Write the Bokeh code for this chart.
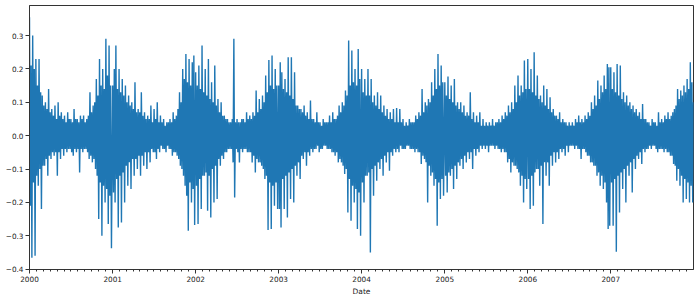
import pandas as pd
from bokeh.plotting import figure
from bokeh.models import ColumnDataSource, Range1d, FixedTicker, DatetimeTickFormatter
from bokeh.embed import file_html
from bokeh.resources import INLINE

# Readings twice a week: "up" = positive swing read at the start of each week
# (1 January + 7*i days), "lo" = negative swing read half a week later.
years = [2000, 2001, 2002, 2003, 2004, 2005, 2006, 2007]

up2000 = [0.355, 0.21, 0.30, 0.20, 0.23, 0.15, 0.23, 0.13, 0.12, 0.09,
          0.10, 0.08, 0.14, 0.07, 0.08, 0.06, 0.09, 0.05, 0.10, 0.06,
          0.07, 0.05, 0.06, 0.04, 0.07, 0.05, 0.05, 0.04, 0.08, 0.05,
          0.05, 0.04, 0.06, 0.05, 0.06, 0.04, 0.05, 0.06, 0.13, 0.07,
          0.09, 0.10, 0.17, 0.12, 0.23, 0.15, 0.20, 0.14, 0.29, 0.18,
          0.27, 0.15]
lo2000 = [-0.21, -0.366, -0.14, -0.36, -0.12, -0.15, -0.10, -0.22, -0.09, -0.09,
          -0.07, -0.12, -0.06, -0.07, -0.05, -0.06, -0.05, -0.12, -0.05, -0.07,
          -0.04, -0.06, -0.04, -0.05, -0.04, -0.04, -0.05, -0.06, -0.04, -0.05,
          -0.04, -0.11, -0.04, -0.05, -0.04, -0.04, -0.05, -0.07, -0.06, -0.08,
          -0.07, -0.10, -0.12, -0.25, -0.14, -0.30, -0.15, -0.20, -0.16, -0.265,
          -0.18, -0.337]
up2001 = [0.15, 0.20, 0.27, 0.14, 0.20, 0.13, 0.17, 0.12, 0.15, 0.10,
          0.12, 0.09, 0.10, 0.08, 0.16, 0.07, 0.08, 0.07, 0.13, 0.06,
          0.07, 0.05, 0.06, 0.05, 0.09, 0.04, 0.08, 0.05, 0.10, 0.04,
          0.06, 0.04, 0.05, 0.03, 0.04, 0.04, 0.05, 0.04, 0.07, 0.05,
          0.06, 0.08, 0.13, 0.10, 0.20, 0.17, 0.245, 0.16, 0.23, 0.15,
          0.22, 0.24]
lo2001 = [-0.17, -0.20, -0.13, -0.275, -0.12, -0.26, -0.11, -0.20, -0.09, -0.15,
          -0.08, -0.16, -0.07, -0.12, -0.07, -0.10, -0.06, -0.12, -0.06, -0.09,
          -0.05, -0.10, -0.05, -0.08, -0.04, -0.05, -0.05, -0.07, -0.04, -0.05,
          -0.03, -0.04, -0.04, -0.05, -0.03, -0.04, -0.04, -0.06, -0.05, -0.05,
          -0.06, -0.07, -0.09, -0.10, -0.12, -0.15, -0.18, -0.285, -0.14, -0.20,
          -0.16, -0.268]
up2002 = [0.19, 0.15, 0.21, 0.14, 0.27, 0.13, 0.20, 0.12, 0.23, 0.11,
          0.16, 0.10, 0.21, 0.09, 0.11, 0.07, 0.10, 0.06, 0.06, 0.05,
          0.05, 0.04, 0.04, 0.05, 0.29, 0.04, 0.05, 0.04, 0.04, 0.05,
          0.05, 0.04, 0.07, 0.05, 0.06, 0.05, 0.07, 0.06, 0.135, 0.07,
          0.11, 0.08, 0.12, 0.10, 0.18, 0.13, 0.227, 0.15, 0.24, 0.14,
          0.20, 0.15]
lo2002 = [-0.15, -0.265, -0.13, -0.22, -0.12, -0.12, -0.11, -0.225, -0.12, -0.245,
          -0.10, -0.20, -0.09, -0.19, -0.07, -0.09, -0.06, -0.07, -0.05, -0.05,
          -0.04, -0.04, -0.04, -0.08, -0.185, -0.04, -0.05, -0.08, -0.04, -0.05,
          -0.04, -0.04, -0.05, -0.05, -0.05, -0.08, -0.06, -0.11, -0.07, -0.08,
          -0.08, -0.09, -0.10, -0.13, -0.12, -0.283, -0.14, -0.28, -0.15, -0.21,
          -0.14, -0.22]
up2003 = [0.15, 0.22, 0.19, 0.14, 0.17, 0.13, 0.235, 0.12, 0.235, 0.11,
          0.19, 0.09, 0.09, 0.08, 0.08, 0.07, 0.09, 0.06, 0.07, 0.05,
          0.105, 0.05, 0.05, 0.04, 0.07, 0.04, 0.04, 0.03, 0.05, 0.04,
          0.04, 0.04, 0.06, 0.04, 0.07, 0.05, 0.05, 0.06, 0.09, 0.07,
          0.10, 0.09, 0.135, 0.12, 0.285, 0.15, 0.255, 0.16, 0.20, 0.15,
          0.26, 0.17]
lo2003 = [-0.22, -0.275, -0.13, -0.22, -0.12, -0.245, -0.11, -0.19, -0.10, -0.20,
          -0.09, -0.12, -0.08, -0.13, -0.06, -0.07, -0.05, -0.09, -0.05, -0.06,
          -0.04, -0.05, -0.04, -0.04, -0.03, -0.05, -0.04, -0.04, -0.03, -0.03,
          -0.04, -0.04, -0.04, -0.05, -0.05, -0.06, -0.05, -0.08, -0.07, -0.08,
          -0.09, -0.115, -0.10, -0.23, -0.13, -0.255, -0.15, -0.20, -0.16, -0.28,
          -0.17, -0.30]
up2004 = [0.20, 0.13, 0.17, 0.12, 0.20, 0.12, 0.17, 0.10, 0.12, 0.09,
          0.13, 0.08, 0.12, 0.07, 0.09, 0.06, 0.08, 0.05, 0.07, 0.05,
          0.08, 0.04, 0.083, 0.04, 0.08, 0.04, 0.05, 0.03, 0.04, 0.03,
          0.05, 0.04, 0.04, 0.04, 0.06, 0.05, 0.07, 0.06, 0.14, 0.07,
          0.10, 0.09, 0.11, 0.10, 0.16, 0.12, 0.20, 0.14, 0.245, 0.15,
          0.21, 0.16]
lo2004 = [-0.14, -0.20, -0.12, -0.12, -0.11, -0.35, -0.10, -0.18, -0.09, -0.135,
          -0.08, -0.10, -0.07, -0.12, -0.06, -0.08, -0.05, -0.105, -0.05, -0.06,
          -0.04, -0.05, -0.04, -0.05, -0.03, -0.04, -0.04, -0.04, -0.03, -0.03,
          -0.04, -0.04, -0.04, -0.05, -0.04, -0.05, -0.05, -0.085, -0.06, -0.07,
          -0.08, -0.20, -0.09, -0.12, -0.11, -0.15, -0.13, -0.27, -0.14, -0.19,
          -0.13, -0.18]
up2005 = [0.16, 0.12, 0.177, 0.11, 0.15, 0.10, 0.17, 0.09, 0.10, 0.08,
          0.10, 0.07, 0.09, 0.06, 0.07, 0.06, 0.13, 0.05, 0.07, 0.04,
          0.06, 0.04, 0.07, 0.03, 0.05, 0.03, 0.04, 0.03, 0.04, 0.03,
          0.05, 0.03, 0.04, 0.04, 0.05, 0.04, 0.06, 0.05, 0.07, 0.06,
          0.09, 0.07, 0.10, 0.08, 0.15, 0.10, 0.18, 0.12, 0.15, 0.13,
          0.225, 0.14]
lo2005 = [-0.12, -0.17, -0.11, -0.12, -0.10, -0.16, -0.09, -0.13, -0.08, -0.09,
          -0.07, -0.10, -0.06, -0.08, -0.05, -0.07, -0.05, -0.10, -0.04, -0.06,
          -0.04, -0.05, -0.03, -0.04, -0.03, -0.04, -0.03, -0.05, -0.03, -0.03,
          -0.03, -0.04, -0.03, -0.04, -0.04, -0.05, -0.04, -0.05, -0.05, -0.08,
          -0.07, -0.11, -0.08, -0.09, -0.09, -0.10, -0.11, -0.15, -0.12, -0.20,
          -0.13, -0.16]
up2006 = [0.23, 0.14, 0.20, 0.13, 0.25, 0.12, 0.18, 0.11, 0.12, 0.10,
          0.15, 0.09, 0.14, 0.08, 0.115, 0.07, 0.08, 0.06, 0.06, 0.05,
          0.07, 0.04, 0.05, 0.04, 0.04, 0.03, 0.04, 0.03, 0.04, 0.03,
          0.05, 0.04, 0.06, 0.04, 0.05, 0.04, 0.06, 0.05, 0.07, 0.06,
          0.10, 0.08, 0.12, 0.09, 0.165, 0.11, 0.15, 0.13, 0.18, 0.14,
          0.215, 0.205]
lo2006 = [-0.13, -0.22, -0.12, -0.21, -0.11, -0.10, -0.10, -0.15, -0.09, -0.265,
          -0.08, -0.12, -0.08, -0.15, -0.06, -0.09, -0.05, -0.08, -0.05, -0.07,
          -0.04, -0.05, -0.04, -0.06, -0.03, -0.05, -0.03, -0.03, -0.03, -0.04,
          -0.03, -0.04, -0.04, -0.07, -0.04, -0.04, -0.05, -0.06, -0.06, -0.08,
          -0.08, -0.09, -0.09, -0.12, -0.11, -0.15, -0.12, -0.16, -0.14, -0.20,
          -0.28, -0.27]
up2007 = [0.205, 0.14, 0.19, 0.13, 0.215, 0.12, 0.21, 0.11, 0.13, 0.10,
          0.12, 0.09, 0.10, 0.08, 0.09, 0.07, 0.08, 0.06, 0.07, 0.05,
          0.095, 0.05, 0.05, 0.04, 0.04, 0.03, 0.05, 0.04, 0.04, 0.03,
          0.07, 0.04, 0.05, 0.04, 0.06, 0.05, 0.07, 0.05, 0.06, 0.07,
          0.08, 0.09, 0.14, 0.11, 0.135, 0.12, 0.15, 0.13, 0.17, 0.14,
          0.22, 0.16, 0.10]
lo2007 = [-0.14, -0.27, -0.13, -0.348, -0.12, -0.23, -0.11, -0.16, -0.10, -0.20,
          -0.09, -0.12, -0.08, -0.17, -0.07, -0.10, -0.06, -0.07, -0.05, -0.085,
          -0.04, -0.05, -0.04, -0.04, -0.03, -0.04, -0.03, -0.03, -0.04, -0.05,
          -0.04, -0.04, -0.04, -0.05, -0.04, -0.05, -0.05, -0.06, -0.06, -0.085,
          -0.09, -0.135, -0.10, -0.15, -0.12, -0.20, -0.13, -0.19, -0.14, -0.20,
          -0.15, -0.20]

y_tick_values = [-0.4, -0.3, -0.2, -0.1, 0.0, 0.1, 0.2, 0.3]
y_tick_labels = ["\u22120.4", "\u22120.3", "\u22120.2", "\u22120.1", "0.0", "0.1", "0.2", "0.3"]
x_label = "Date"

ups = [up2000, up2001, up2002, up2003, up2004, up2005, up2006, up2007]
los = [lo2000, lo2001, lo2002, lo2003, lo2004, lo2005, lo2006, lo2007]
dates, vals = [], []
for yr, up, lo in zip(years, ups, los):
    start = pd.Timestamp(f"{yr}-01-01")
    for i, u in enumerate(up):
        dates.append(start + pd.Timedelta(days=7 * i))
        vals.append(u)
        if i < len(lo):
            dates.append(start + pd.Timedelta(days=7 * i, hours=84))
            vals.append(lo[i])
src = ColumnDataSource(dict(date=pd.to_datetime(dates), value=vals))

x_start = pd.Timestamp("2000-01-01")
x_end = pd.Timestamp("2007-12-31")

p = figure(width=700, height=300, output_backend="svg", toolbar_location=None,
           x_axis_type="datetime",
           x_range=Range1d(x_start, x_end), y_range=Range1d(-0.401, 0.390),
           min_border_left=29, min_border_right=7, min_border_top=5, min_border_bottom=31)
p.line("date", "value", source=src, line_color="#1f77b4", line_width=1.4)

def ms(ts):
    return pd.Timestamp(ts).value / 1e6

year_ticks = [ms(f"{y}-01-01") for y in years]
month_ticks = [ms(f"{y}-{m:02d}-01") for y in years for m in range(2, 13)]
p.xaxis.ticker = FixedTicker(ticks=year_ticks, minor_ticks=month_ticks)
p.xaxis.formatter = DatetimeTickFormatter(years="%Y", months="%Y", days="%Y",
                                          hours="%Y", minutes="%Y", seconds="%Y")
p.yaxis.ticker = FixedTicker(ticks=y_tick_values)
p.yaxis.major_label_overrides = dict(zip(y_tick_values, y_tick_labels))
p.xaxis.axis_label = x_label

p.xgrid.visible = False
p.ygrid.visible = False
p.outline_line_color = "#333333"
p.outline_line_width = 1
p.background_fill_color = "white"
p.border_fill_color = "white"

for ax in (p.xaxis, p.yaxis):
    ax.axis_line_color = "#333333"
    ax.major_tick_line_color = "#333333"
    ax.minor_tick_line_color = "#333333"
    ax.major_tick_in = 0
    ax.major_tick_out = 4
    ax.minor_tick_in = 0
    ax.minor_tick_out = 2
    ax.major_label_text_font = "DejaVu Sans"
    ax.major_label_text_font_size = "7.3px"
    ax.major_label_text_color = "#222222"
    ax.axis_label_text_font = "DejaVu Sans"
    ax.axis_label_text_font_size = "7.5px"
    ax.axis_label_text_font_style = "normal"
    ax.axis_label_text_color = "#222222"
p.yaxis.minor_tick_line_color = None
p.yaxis.major_label_standoff = 2
p.xaxis.major_label_standoff = 2
p.xaxis.axis_label_standoff = 2

open("out.html", "w").write(file_html(p, INLINE))
